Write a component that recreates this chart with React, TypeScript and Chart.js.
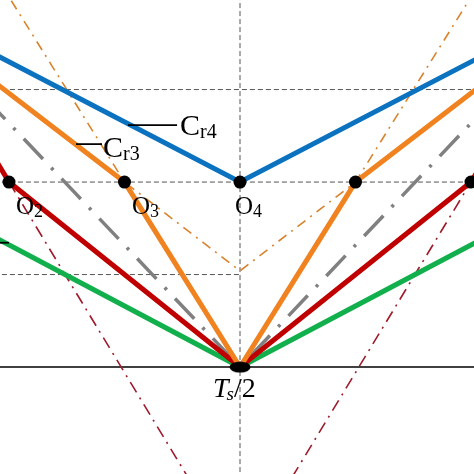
import { useEffect, useRef } from 'react';
import { Chart, registerables, Plugin } from 'chart.js';

Chart.register(...registerables);

// axis window (x: O3 at ±1, O2 at ±2; y: O row at 1)
const xRange = [-2.078, 2.026];
const yRange = [-0.578, 1.984];

// thick lines
const blueCr4 = [[-2.2, 1.715], [0, 1], [2.2, 1.715]];
const orangeCr3 = [[-2.2, 1.576], [-1, 1], [0, 0], [1, 1], [2.2, 1.576]];
const redCr2 = [[-2.2, 1.206], [-2, 1], [0, 0], [2, 1], [2.2, 1.206]];
const greenCr1 = [[-2.2, 0.726], [0, 0], [2.2, 0.726]];
const grayDashDot = [[-2.2, 1.45], [0, 0], [2.2, 1.45]];

// thin dash-dot extensions
const orangeExt = [[-2.2, 2.2], [-1, 1], [0, 0.52], [1, 1], [2.2, 2.2]];
const redExt = [[-2, 1], [0, -1.06], [2, 1]];

// guide lines
const levelHigh = [[-2.2, 1.5], [2.2, 1.5]];
const levelO = [[-2.2, 1], [2.2, 1]];
const levelLow = [[-2.2, 0.5], [0, 0.5]];
const centerLine = [[0, -1], [0, 2.2]];
const baseLine = [[-2.2, 0], [2.2, 0]];

// leaders
const leaderCr4 = [[-0.97, 1.308], [-0.545, 1.308]];
const leaderCr3 = [[-1.42, 1.205], [-1.195, 1.205]];
const leaderCr1 = [[-2.1, 0.672], [-2.0, 0.672]];

// marked points
const oPoints = [[-2, 1], [-1, 1], [0, 1], [1, 1], [2, 1]];
const tPoint = [[0, 0]];

const labelTexts = ['C', 'C', 'O', 'O', 'O', 'T'];
const labelSubs = ['r4', 'r3', '2', '3', '4', 's'];
const labelTails = ['', '', '', '', '', '/2'];
const labelX = [-0.519, -1.186, -1.939, -0.935, -0.043, -0.234];
const labelY = [1.254, 1.135, 0.827, 0.827, 0.827, -0.162];

const pts = (a: number[][]) => a.map(([x, y]) => ({ x, y }));

const labelPlugin: Plugin = {
  id: 'textLabels',
  afterDatasetsDraw(chart) {
    const { ctx } = chart;
    const xs = chart.scales.x;
    const ys = chart.scales.y;
    ctx.save();
    ctx.fillStyle = '#000';
    ctx.textBaseline = 'alphabetic';
    labelTexts.forEach((t, i) => {
      const big = t === 'C';
      const italic = t === 'T';
      const size = big ? 30 : italic ? 28 : 25;
      const subSize = big ? 20 : italic ? 19 : 18;
      let px = xs.getPixelForValue(labelX[i]);
      const py = ys.getPixelForValue(labelY[i]);
      ctx.font = `${italic ? 'italic ' : ''}${size}px "Liberation Serif"`;
      ctx.fillText(t, px, py);
      px += ctx.measureText(t).width - (italic ? 2 : 0);
      ctx.font = `${italic ? 'italic ' : ''}${subSize}px "Liberation Serif"`;
      ctx.fillText(labelSubs[i], px, py + 3);
      px += ctx.measureText(labelSubs[i]).width;
      if (labelTails[i]) {
        ctx.font = `${size}px "Liberation Serif"`;
        ctx.fillText(labelTails[i], px, py);
      }
    });
    ctx.restore();
  },
};

export default function App() {
  const canvasRef = useRef<HTMLCanvasElement>(null);

  useEffect(() => {
    document.body.style.margin = '0';
    if (!canvasRef.current) return;

    const ellipse = document.createElement('canvas');
    ellipse.width = 22;
    ellipse.height = 12;
    const ec = ellipse.getContext('2d');
    if (ec) {
      ec.fillStyle = '#000';
      ec.beginPath();
      ec.ellipse(11, 6, 10.5, 5.5, 0, 0, Math.PI * 2);
      ec.fill();
    }

    const line = (data: number[][], color: string, width: number, dash: number[] = []) => ({
      data: pts(data),
      showLine: true,
      borderColor: color,
      borderWidth: width,
      borderDash: dash,
      pointRadius: 0,
      fill: false,
      tension: 0,
    });

    const chart = new Chart(canvasRef.current, {
      type: 'scatter',
      data: {
        datasets: [
          {
            data: pts(tPoint),
            pointStyle: ellipse,
            pointRadius: 6,
            showLine: false,
          },
          {
            data: pts(oPoints),
            pointRadius: 6.5,
            pointBackgroundColor: '#000',
            pointBorderColor: '#000',
            pointBorderWidth: 0,
            showLine: false,
          },
          line(leaderCr4, '#000', 1.8),
          line(leaderCr3, '#000', 1.8),
          line(leaderCr1, '#000', 1.8),
          line(blueCr4, '#0B72C0', 5),
          line(orangeCr3, '#F08220', 5),
          line(redCr2, '#C00000', 5),
          line(greenCr1, '#12B04C', 5),
          line(grayDashDot, '#808080', 3.5, [28, 12, 3, 12]),
          line(orangeExt, '#D9822B', 1.6, [10, 6, 2, 6]),
          line(redExt, '#9E1A2A', 1.6, [12, 6, 2, 6]),
          line(baseLine, '#000', 1.6),
          line(levelHigh, '#555', 1, [5, 3]),
          line(levelO, '#555', 1, [5, 3]),
          line(levelLow, '#555', 1, [5, 3]),
          line(centerLine, '#555', 1, [5, 3]),
        ],
      },
      options: {
        animation: false,
        responsive: false,
        layout: { padding: 0, autoPadding: false },
        plugins: {
          legend: { display: false },
          tooltip: { enabled: false },
        },
        scales: {
          x: { type: 'linear', display: false, min: xRange[0], max: xRange[1] },
          y: { type: 'linear', display: false, min: yRange[0], max: yRange[1] },
        },
      },
      plugins: [labelPlugin],
    });

    return () => {
      chart.destroy();
    };
  }, []);

  return (
    <div style={{ width: 474, height: 474, background: '#fff' }}>
      <canvas ref={canvasRef} width={474} height={474} />
    </div>
  );
}
